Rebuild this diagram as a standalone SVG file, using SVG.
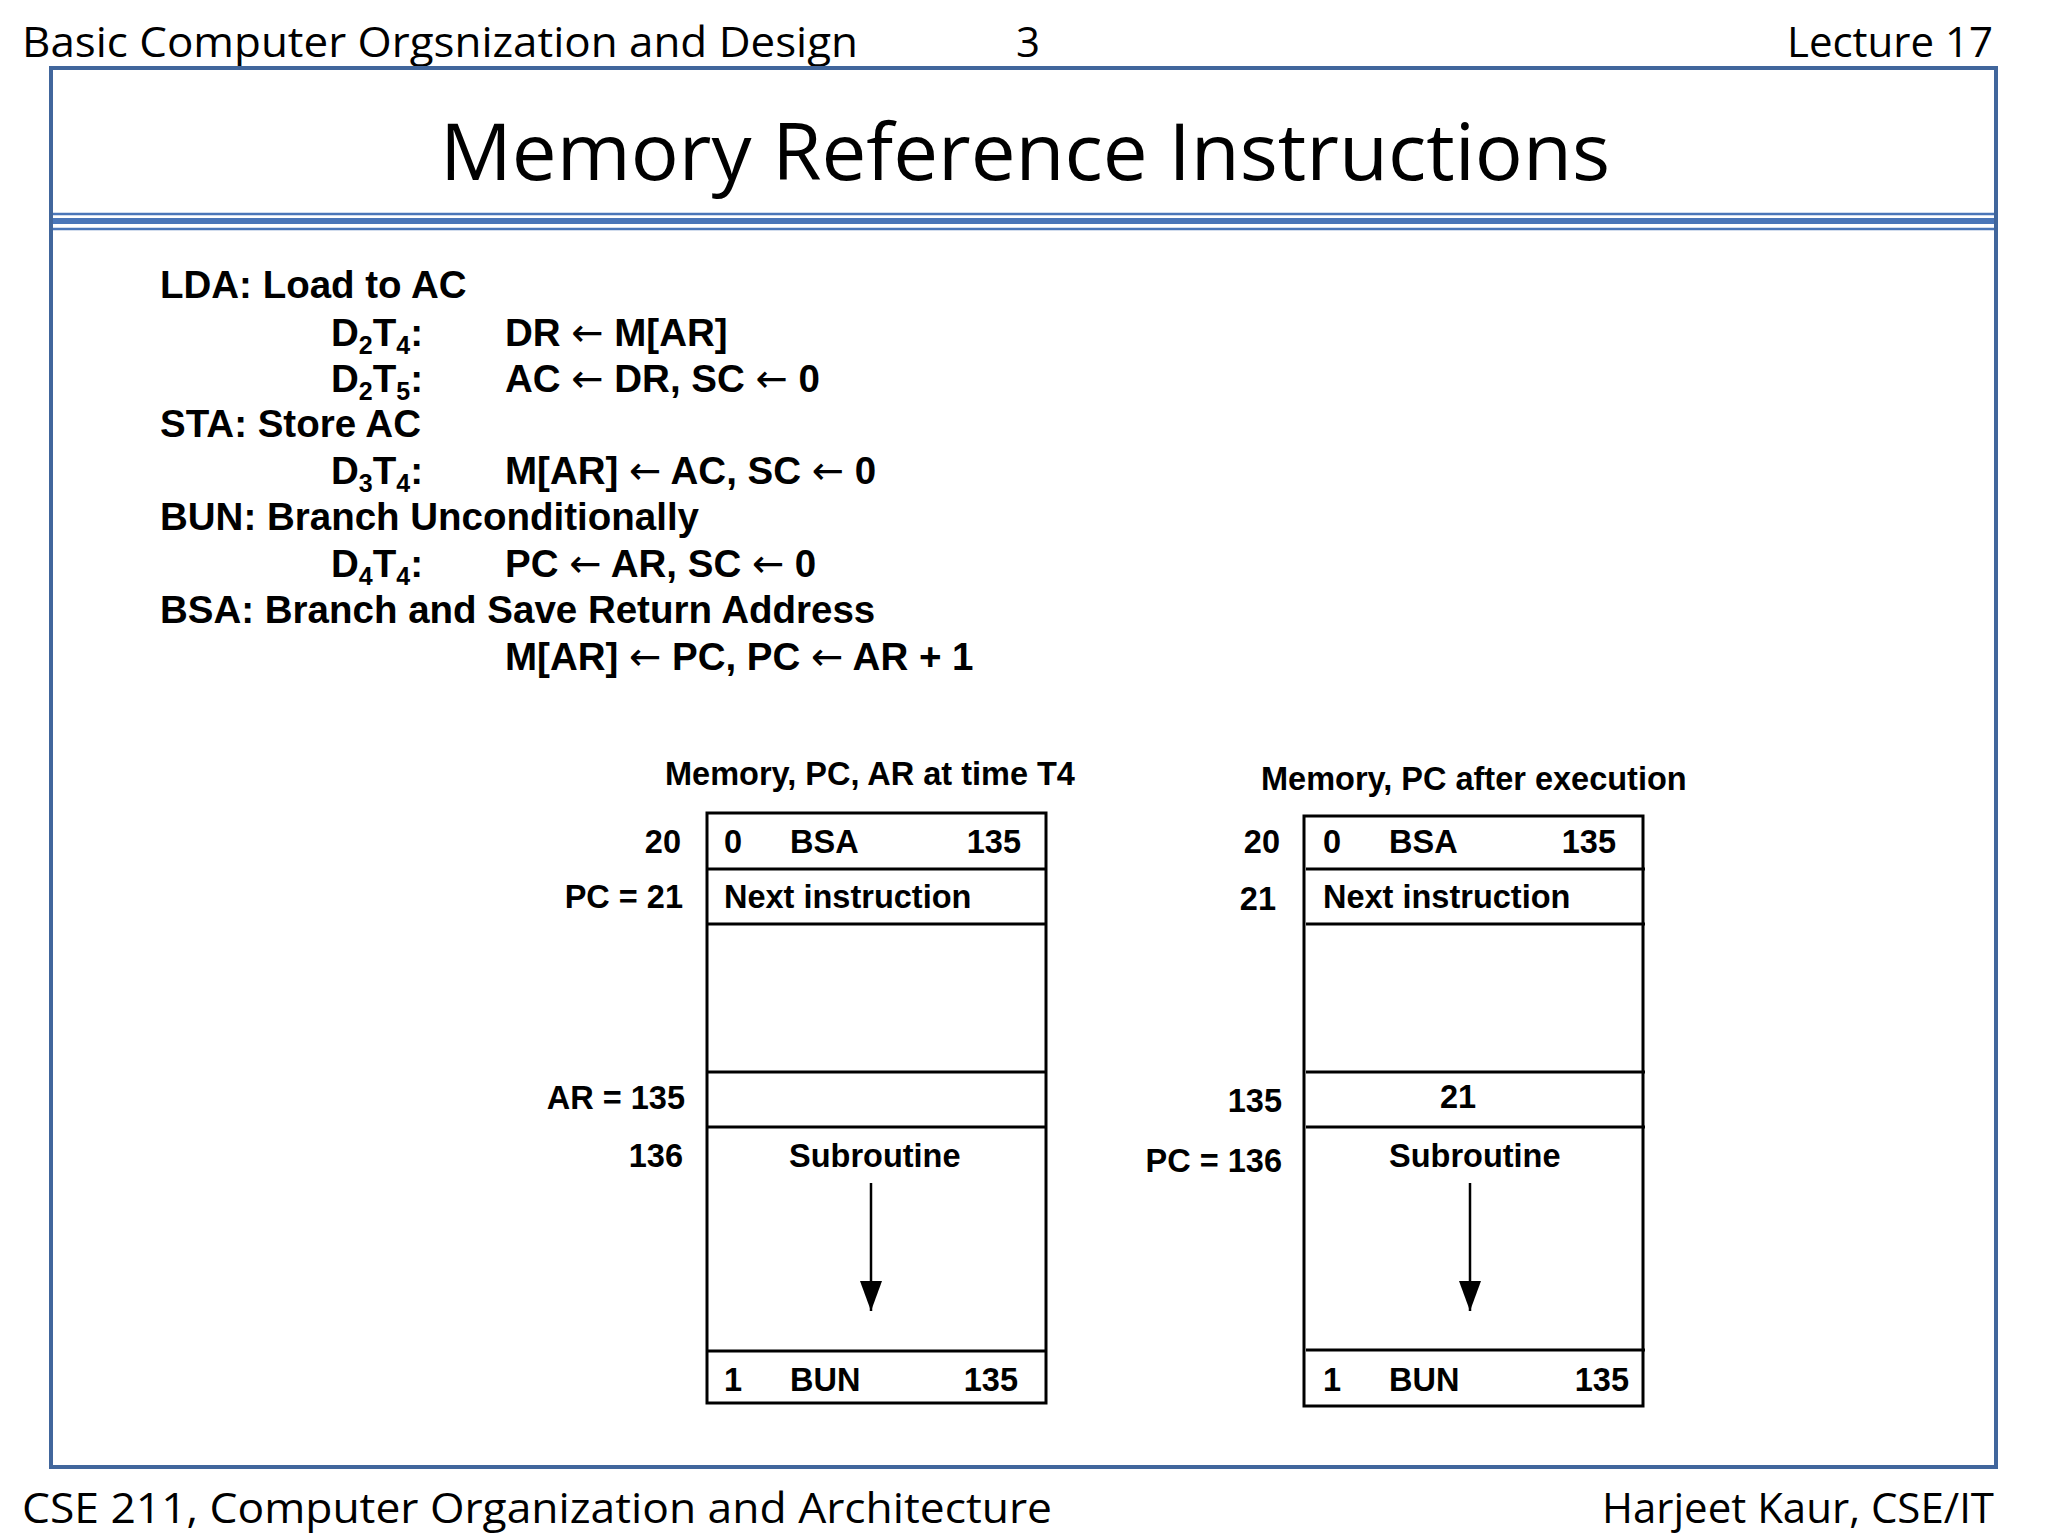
<svg xmlns="http://www.w3.org/2000/svg" width="2048" height="1536" viewBox="0 0 2048 1536">
<style>
.hd{font-family:"Open Sans","Liberation Sans",sans-serif;font-size:42px;fill:#000}
.ti{font-family:"Open Sans","Liberation Sans",sans-serif;font-size:78px;fill:#000}
.b{font-family:"Liberation Sans","DejaVu Sans",sans-serif;font-weight:bold;font-size:38.5px;fill:#000}
.t{font-family:"Liberation Sans","DejaVu Sans",sans-serif;font-weight:bold;font-size:32.5px;fill:#000}
.sub{font-size:25px}
.ar{font-family:"DejaVu Sans",sans-serif;font-weight:normal}
.cell{fill:none;stroke:#000;stroke-width:3}
.bl{stroke:#4a76b8;fill:none}
</style>
<defs>
<marker id="ah" markerWidth="30" markerHeight="22" refX="30" refY="11" orient="auto" markerUnits="userSpaceOnUse" viewBox="0 0 30 22">
<path d="M0,0 L30,11 L0,22 Z" fill="#000"/>
</marker>
</defs>
<rect width="2048" height="1536" fill="#fff"/>
<g id="header">
<text class="hd" x="22" y="57" textLength="836" lengthAdjust="spacingAndGlyphs">Basic Computer Orgsnization and Design</text>
<text class="hd" x="1016" y="57">3</text>
<text class="hd" x="1993" y="57" text-anchor="end">Lecture 17</text>
</g>
<g id="frame">
<rect x="51" y="68" width="1945" height="1399" fill="none" stroke="#41669c" stroke-width="4"/>
<line class="bl" x1="53" y1="214" x2="1994" y2="214" stroke-width="2.5"/>
<line class="bl" x1="53" y1="221" x2="1994" y2="221" stroke-width="6"/>
<line class="bl" x1="53" y1="229" x2="1994" y2="229" stroke-width="2.5"/>
</g>
<g id="title">
<text class="ti" x="440" y="180" textLength="1170" lengthAdjust="spacingAndGlyphs">Memory Reference Instructions</text>
</g>
<g id="body">
<text class="b" x="160" y="298">LDA: Load to AC</text>
<text class="b" x="331" y="346">D<tspan class="sub" dy="8">2</tspan><tspan dy="-8">T</tspan><tspan class="sub" dy="8">4</tspan><tspan dy="-8">:</tspan></text>
<text class="b" x="505" y="346">DR <tspan class="ar">←</tspan> M[AR]</text>
<text class="b" x="331" y="392">D<tspan class="sub" dy="8">2</tspan><tspan dy="-8">T</tspan><tspan class="sub" dy="8">5</tspan><tspan dy="-8">:</tspan></text>
<text class="b" x="505" y="392">AC <tspan class="ar">←</tspan> DR, SC <tspan class="ar">←</tspan> 0</text>
<text class="b" x="160" y="437">STA: Store AC</text>
<text class="b" x="331" y="484">D<tspan class="sub" dy="8">3</tspan><tspan dy="-8">T</tspan><tspan class="sub" dy="8">4</tspan><tspan dy="-8">:</tspan></text>
<text class="b" x="505" y="484">M[AR] <tspan class="ar">←</tspan> AC, SC <tspan class="ar">←</tspan> 0</text>
<text class="b" x="160" y="530">BUN: Branch Unconditionally</text>
<text class="b" x="331" y="577">D<tspan class="sub" dy="8">4</tspan><tspan dy="-8">T</tspan><tspan class="sub" dy="8">4</tspan><tspan dy="-8">:</tspan></text>
<text class="b" x="505" y="577">PC <tspan class="ar">←</tspan> AR, SC <tspan class="ar">←</tspan> 0</text>
<text class="b" x="160" y="623">BSA: Branch and Save Return Address</text>
<text class="b" x="505" y="670">M[AR] <tspan class="ar">←</tspan> PC, PC <tspan class="ar">←</tspan> AR + 1</text>
</g>
<g id="mem-before">
<text class="t" x="665" y="785">Memory, PC, AR at time T4</text>
<rect class="cell" x="707" y="813" width="339" height="590"/>
<line class="cell" x1="707" y1="869" x2="1046" y2="869"/>
<line class="cell" x1="707" y1="924" x2="1046" y2="924"/>
<line class="cell" x1="707" y1="1072" x2="1046" y2="1072"/>
<line class="cell" x1="707" y1="1127" x2="1046" y2="1127"/>
<line class="cell" x1="707" y1="1351" x2="1046" y2="1351"/>
<text class="t" x="681" y="853" text-anchor="end">20</text>
<text class="t" x="724" y="853">0</text>
<text class="t" x="790" y="853">BSA</text>
<text class="t" x="1021" y="853" text-anchor="end">135</text>
<text class="t" x="683" y="908" text-anchor="end">PC = 21</text>
<text class="t" x="724" y="908">Next instruction</text>
<text class="t" x="685" y="1109" text-anchor="end">AR = 135</text>
<text class="t" x="683" y="1167" text-anchor="end">136</text>
<text class="t" x="789" y="1167">Subroutine</text>
<text class="t" x="724" y="1391">1</text>
<text class="t" x="790" y="1391">BUN</text>
<text class="t" x="1018" y="1391" text-anchor="end">135</text>
</g>
<g id="mem-after">
<text class="t" x="1261" y="790">Memory, PC after execution</text>
<rect class="cell" x="1304" y="816" width="339" height="590"/>
<line class="cell" x1="1306" y1="869" x2="1645" y2="869"/>
<line class="cell" x1="1306" y1="924" x2="1645" y2="924"/>
<line class="cell" x1="1306" y1="1072" x2="1645" y2="1072"/>
<line class="cell" x1="1306" y1="1127" x2="1645" y2="1127"/>
<line class="cell" x1="1306" y1="1350" x2="1645" y2="1350"/>
<text class="t" x="1280" y="853" text-anchor="end">20</text>
<text class="t" x="1323" y="853">0</text>
<text class="t" x="1389" y="853">BSA</text>
<text class="t" x="1616" y="853" text-anchor="end">135</text>
<text class="t" x="1276" y="910" text-anchor="end">21</text>
<text class="t" x="1323" y="908">Next instruction</text>
<text class="t" x="1282" y="1112" text-anchor="end">135</text>
<text class="t" x="1440" y="1108">21</text>
<text class="t" x="1282" y="1172" text-anchor="end">PC = 136</text>
<text class="t" x="1389" y="1167">Subroutine</text>
<text class="t" x="1323" y="1391">1</text>
<text class="t" x="1389" y="1391">BUN</text>
<text class="t" x="1629" y="1391" text-anchor="end">135</text>
</g>
<g id="connectors">
<line x1="871" y1="1183" x2="871" y2="1311" stroke="#000" stroke-width="2.5" marker-end="url(#ah)"/>
<line x1="1470" y1="1183" x2="1470" y2="1311" stroke="#000" stroke-width="2.5" marker-end="url(#ah)"/>
</g>
<g id="footer">
<text class="hd" x="22" y="1523" textLength="1030" lengthAdjust="spacingAndGlyphs">CSE 211, Computer Organization and Architecture</text>
<text class="hd" x="1994" y="1523" text-anchor="end">Harjeet Kaur, CSE/IT</text>
</g>
</svg>
